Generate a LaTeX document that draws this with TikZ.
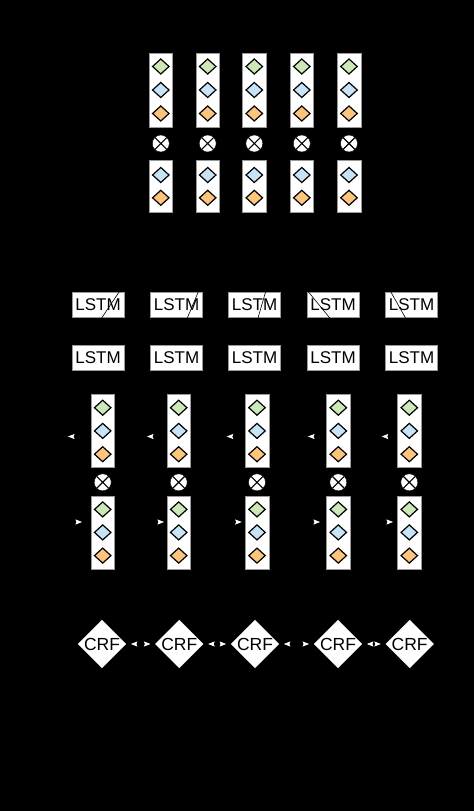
\documentclass[tikz,border=0pt]{standalone}
\usepackage{fontspec}
\setmainfont{Liberation Sans}
\usetikzlibrary{shapes.geometric}
\usetikzlibrary{arrows.meta, calc}
\usetikzlibrary{positioning}

\definecolor{vecgreen}{RGB}{204,232,182}
\definecolor{vecblue}{RGB}{200,226,246}
\definecolor{vecorange}{RGB}{252,196,124}

\begin{document}
\begin{tikzpicture}
  [
    x=1pt, y=-1pt,
    >={Stealth[color=white, fill=white, length=6.5pt, width=5pt, inset=1pt]},
    vec/.style   = {draw=black!40, fill=white, minimum width=23.5pt, inner sep=0pt},
    gate/.style  = {diamond, draw, line width=1.2pt, inner sep=0pt, minimum width=17pt, minimum height=15.5pt},
    mult/.style  = {circle, draw, fill=white, minimum size=17pt, inner sep=0pt,
                    path picture={\draw[line width=1.1pt] (path picture bounding box.north west) -- (path picture bounding box.south east)
                                  (path picture bounding box.north east) -- (path picture bounding box.south west);}},
    lstm/.style  = {draw=black!40, fill=white, minimum width=52pt, minimum height=25pt, inner sep=0pt, font=\fontsize{17}{17}\selectfont},
    crf/.style   = {diamond, fill=white, minimum width=40pt, minimum height=42pt, inner sep=0pt, font=\fontsize{17.5}{17.5}\selectfont},
    link/.style  = {line width=0.6pt},
  ]

  % the background
  \fill[black] (0,0) rectangle (474,811);
  \useasboundingbox (0,0) rectangle (474,811);

  % word vectors
  \foreach \x [count=\i] in {160.8,207.7,254.3,301.8,349} {
    \node (embA\i) at (\x,90) [vec, minimum height=74pt] {};
    \node (embAg\i) at (\x,66.5) [gate, fill=vecgreen] {};
    \node (embAb\i) at (\x,90) [gate, fill=vecblue] {};
    \node (embAo\i) at (\x,113.5) [gate, fill=vecorange] {};
    \node (embX\i) at (\x,143.5) [mult] {};
    \node (embB\i) at (\x,186.2) [vec, minimum height=51.5pt] {};
    \node (embBb\i) at (\x,175) [gate, fill=vecblue] {};
    \node (embBo\i) at (\x,197.8) [gate, fill=vecorange] {};
  }

  % the two LSTM rows
  \foreach \x/\s/\e [count=\i] in {98/133.9/90.2, 176.5/207.4/180.2, 254.5/272.0/253.0, 333/290.5/343.7, 411.5/378.4/415.2} {
    \coordinate (in\i) at (\s,270);
    \coordinate (out\i) at (\e,335);
    \node (bwd\i) at (\x,304.3) [lstm] {LSTM};
    \node (fwd\i) at (\x,357.2) [lstm] {LSTM};
  }
  \foreach \i in {1,...,5} {
    \draw[link] (in\i) -- (out\i);
  }

  % hidden vectors
  \foreach \x/\l/\r [count=\i] in {102.7/68/82, 178.7/147/164, 257/226.7/241.7, 338.3/308/320, 409.3/381.7/393} {
    \node (hidA\i) at (\x,430.7) [vec, minimum height=72.7pt] {};
    \node (hidAg\i) at (\x,407.7) [gate, fill=vecgreen] {};
    \node (hidAb\i) at (\x,430.9) [gate, fill=vecblue] {};
    \node (hidAo\i) at (\x,454.2) [gate, fill=vecorange] {};
    \node (hidX\i) at (\x,482.3) [mult] {};
    \node (hidB\i) at (\x,532.7) [vec, minimum height=73.3pt] {};
    \node (hidBg\i) at (\x,509.4) [gate, fill=vecgreen] {};
    \node (hidBb\i) at (\x,532.4) [gate, fill=vecblue] {};
    \node (hidBo\i) at (\x,555.6) [gate, fill=vecorange] {};
    \coordinate (bl\i) at (\l,436.5);
    \coordinate (fl\i) at (\r-25,522);
    \coordinate (fr\i) at (\r,522);
    \draw[link, ->] (hidA\i.west |- bl\i) -- (bl\i);
    \draw[link, ->] (fl\i) -- (fr\i);
  }

  % CRF layer
  \node (crf1) at (102,644) [crf] {CRF};
  \node (crf2) at (179.3,644) [crf] {CRF};
  \node (crf3) at (255,644) [crf] {CRF};
  \node (crf4) at (338,644) [crf] {CRF};
  \node (crf5) at (409.7,644) [crf] {CRF};

  \draw[link, <->, shorten <=4.5pt, shorten >=4.5pt] (crf1) -- (crf2);
  \draw[link, <->, shorten <=4.5pt, shorten >=4.5pt] (crf2) -- (crf3);
  \draw[link, <->, shorten <=4.5pt, shorten >=4.5pt] (crf3) -- (crf4);
  \draw[link, <->, shorten <=4.5pt, shorten >=4.5pt] (crf4) -- (crf5);

\end{tikzpicture}
\end{document}
